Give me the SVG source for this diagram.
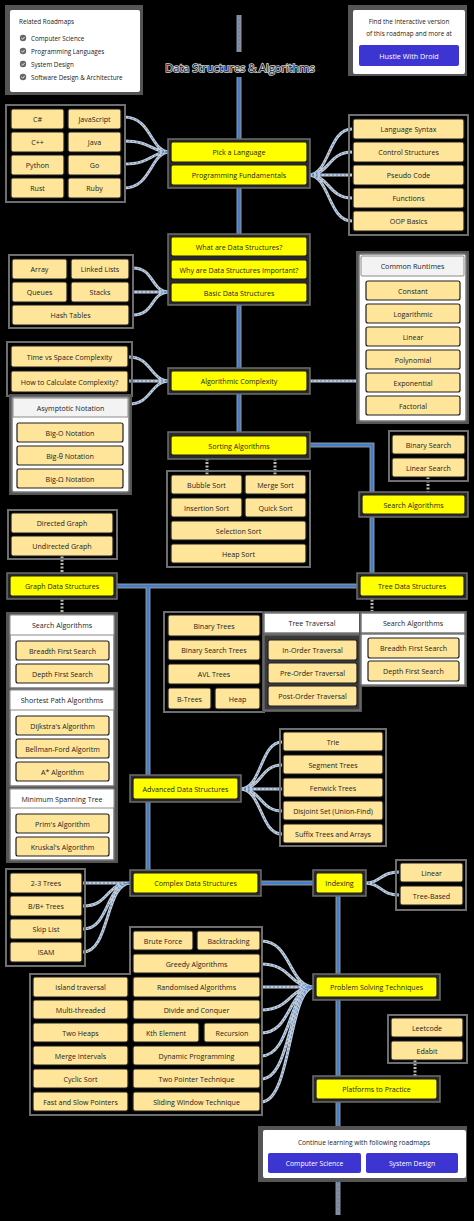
<svg xmlns="http://www.w3.org/2000/svg" width="474" height="1221" viewBox="0 0 474 1221">
<style>
.bg{fill:#000}
.n{fill:#FFE599;stroke:#1e1e1e;stroke-width:1.2}
.y{fill:#FFFF00;stroke:#1e1e1e;stroke-width:1.2}
.fr{fill:#2a2a2a;stroke:#6e6e6e;stroke-width:1.5}
.gf{fill:none;stroke:#6e6e6e;stroke-width:2}
.wc{fill:#fff;stroke:#7a7a7a;stroke-width:1.5}
.hd{fill:#f3f3f3;stroke:#8a8a8a;stroke-width:1}
.t{font-family:"Open Sans",sans-serif;font-size:7.1px;font-weight:500;fill:#222;text-anchor:middle;dominant-baseline:central}
.s{font-family:"Open Sans",sans-serif;font-size:6.3px;fill:#222;dominant-baseline:central}
.bt{fill:#3D35D2}
.wt{font-family:"Open Sans",sans-serif;font-size:7.2px;font-weight:500;fill:#fff;text-anchor:middle;dominant-baseline:central}
.spE{fill:none;stroke:#8c9096;stroke-width:5}
.spC{fill:none;stroke:#3f7fd1;stroke-width:2.5}
.buE{fill:none;stroke:#c3cad2;stroke-width:3}
.buC{fill:none;stroke:#4a89d8;stroke-width:1;stroke-dasharray:2 2}
.dt{fill:none;stroke:#b5bcae;stroke-width:3;stroke-dasharray:2 1.5}
</style>
<rect class="bg" x="0" y="0" width="474" height="1221"/>

<g id="connectors">
  <path class="spE" d="M239,15 V52 M239,77 V436 M307,445 H372 V576 M360,586 H114 M148,586 V873 M258,883 H316 M338,893 V1126 M338,1182 V1215"/>
  <path class="spC" d="M239,77 V436 M307,445 H372 V576 M360,586 H114 M148,586 V873 M258,883 H316 M338,893 V1126"/>
  <path class="buC" d="M239,15 V52 M338,1182 V1215" style="stroke-width:1.5"/>
  <path class="buE" d="M124,117 C152,117 150,152 170,152 M124,141 C152,141 150,152 170,152 M124,164 C152,164 150,152 170,152 M124,188 C152,188 150,152 170,152
  M308,175 C330,175 328,129 352,129 M308,175 C330,175 328,152 352,152 M308,175 H352 M308,175 C330,175 328,198 352,198 M308,175 C330,175 328,221 352,221
  M133,268 C155,268 150,292 170,292 M133,292 H170 M133,315 C155,315 150,292 170,292
  M129,357 C152,357 150,381 170,381 M129,381 H170 M129,404 C152,404 150,381 170,381
  M308,381 H358
  M240,789 C262,789 260,742 282,742 M240,789 C262,789 260,765 282,765 M240,789 H282 M240,789 C262,789 260,811 282,811 M240,789 C262,789 260,834 282,834
  M83,883 H131 M83,906 C110,906 105,883 131,883 M83,929 C110,929 105,883 131,883 M83,952 C110,952 105,883 131,883
  M364,883 C382,883 380,872 399,872 M364,883 C382,883 380,895 399,895
  M261,941 C292,941 288,987 315,987 M261,964 C292,964 288,987 315,987 M261,987 H315 M261,1010 C292,1010 288,987 315,987 M261,1033 C292,1033 288,987 315,987 M261,1056 C292,1056 288,987 315,987 M261,1079 C292,1079 288,987 315,987 M261,1102 C292,1102 288,987 315,987"/>
  <path class="buC" d="M124,117 C152,117 150,152 170,152 M124,141 C152,141 150,152 170,152 M124,164 C152,164 150,152 170,152 M124,188 C152,188 150,152 170,152
  M308,175 C330,175 328,129 352,129 M308,175 C330,175 328,152 352,152 M308,175 H352 M308,175 C330,175 328,198 352,198 M308,175 C330,175 328,221 352,221
  M133,268 C155,268 150,292 170,292 M133,292 H170 M133,315 C155,315 150,292 170,292
  M129,357 C152,357 150,381 170,381 M129,381 H170 M129,404 C152,404 150,381 170,381
  M308,381 H358
  M240,789 C262,789 260,742 282,742 M240,789 C262,789 260,765 282,765 M240,789 H282 M240,789 C262,789 260,811 282,811 M240,789 C262,789 260,834 282,834
  M83,883 H131 M83,906 C110,906 105,883 131,883 M83,929 C110,929 105,883 131,883 M83,952 C110,952 105,883 131,883
  M364,883 C382,883 380,872 399,872 M364,883 C382,883 380,895 399,895
  M261,941 C292,941 288,987 315,987 M261,964 C292,964 288,987 315,987 M261,987 H315 M261,1010 C292,1010 288,987 315,987 M261,1033 C292,1033 288,987 315,987 M261,1056 C292,1056 288,987 315,987 M261,1079 C292,1079 288,987 315,987 M261,1102 C292,1102 288,987 315,987"/>
  <path class="dt" d="M207,455 V475 M275,455 V475 M428,477 V495 M62,556 V576 M62,596 V615 M372,596 V613 M415,1060 V1079"/>
</g>

<g id="related-roadmaps">
  <rect x="5" y="5" width="138" height="90" fill="#555"/>
  <rect x="10" y="10" width="130" height="82" rx="2" fill="#fff"/>
  <text class="s" x="19" y="21">Related Roadmaps</text>
  <g fill="#666"><circle cx="23" cy="38" r="3.2"/><circle cx="23" cy="51" r="3.2"/><circle cx="23" cy="64" r="3.2"/><circle cx="23" cy="77" r="3.2"/></g>
  <path d="M21.4,38 l1.2,1.2 l2,-2.2 M21.4,51 l1.2,1.2 l2,-2.2 M21.4,64 l1.2,1.2 l2,-2.2 M21.4,77 l1.2,1.2 l2,-2.2" fill="none" stroke="#fff" stroke-width="0.9"/>
  <text class="s" x="31" y="38">Computer Science</text>
  <text class="s" x="31" y="51">Programming Languages</text>
  <text class="s" x="31" y="64">System Design</text>
  <text class="s" x="31" y="77">Software Design &amp; Architecture</text>
</g>
<g id="title">
  <text x="240" y="67" font-family="'Open Sans',sans-serif" font-size="11" text-anchor="middle" dominant-baseline="central" fill="#1a1a1a" stroke="#d5d5d5" stroke-width="1.6" paint-order="stroke">Data Structures &amp; Algorithms</text>
</g>
<g id="interactive">
  <rect x="348" y="5" width="119" height="71" fill="#555"/>
  <rect x="353" y="10" width="112" height="64" rx="2" fill="#fff"/>
  <text class="t" x="409" y="21" style="font-size:6.4px">Find the interactive version</text>
  <text class="t" x="409" y="33" style="font-size:6.4px">of this roadmap and more at</text>
  <rect class="bt" x="359" y="45" width="100" height="21" rx="2"/>
  <text class="wt" x="409" y="55.5">Hustle With Droid</text>
</g>

<rect class="gf" x="6" y="105" width="119" height="97"/>
<g id="c-sharp"><rect class="n" x="11" y="109" width="53" height="20" rx="2"/><text class="t" x="37.5" y="119">C#</text></g>
<g id="javascript"><rect class="n" x="68" y="109" width="53" height="20" rx="2"/><text class="t" x="94.5" y="119">JavaScript</text></g>
<g id="cpp"><rect class="n" x="11" y="132" width="53" height="20" rx="2"/><text class="t" x="37.5" y="142">C++</text></g>
<g id="java"><rect class="n" x="68" y="132" width="53" height="20" rx="2"/><text class="t" x="94.5" y="142">Java</text></g>
<g id="python"><rect class="n" x="11" y="155" width="53" height="20" rx="2"/><text class="t" x="37.5" y="165">Python</text></g>
<g id="go"><rect class="n" x="68" y="155" width="53" height="20" rx="2"/><text class="t" x="94.5" y="165">Go</text></g>
<g id="rust"><rect class="n" x="11" y="178" width="53" height="20" rx="2"/><text class="t" x="37.5" y="188">Rust</text></g>
<g id="ruby"><rect class="n" x="68" y="178" width="53" height="20" rx="2"/><text class="t" x="94.5" y="188">Ruby</text></g>

<rect class="fr" x="168" y="139" width="142" height="49"/>
<g id="pick-language"><rect class="y" x="171" y="142" width="136" height="20" rx="2"/><text class="t" x="239" y="152">Pick a Language</text></g>
<g id="programming-fundamentals"><rect class="y" x="171" y="165" width="136" height="20" rx="2"/><text class="t" x="239" y="175">Programming Fundamentals</text></g>

<rect class="gf" x="349" y="115" width="119" height="120"/>
<g id="language-syntax"><rect class="n" x="353" y="119" width="111" height="20" rx="2"/><text class="t" x="408.5" y="129">Language Syntax</text></g>
<g id="control-structures"><rect class="n" x="353" y="142" width="111" height="20" rx="2"/><text class="t" x="408.5" y="152">Control Structures</text></g>
<g id="pseudo-code"><rect class="n" x="353" y="165" width="111" height="20" rx="2"/><text class="t" x="408.5" y="175">Pseudo Code</text></g>
<g id="functions"><rect class="n" x="353" y="188" width="111" height="20" rx="2"/><text class="t" x="408.5" y="198">Functions</text></g>
<g id="oop-basics"><rect class="n" x="353" y="211" width="111" height="20" rx="2"/><text class="t" x="408.5" y="221">OOP Basics</text></g>

<rect class="fr" x="168" y="234" width="142" height="71"/>
<g id="what-are-ds"><rect class="y" x="171" y="237" width="136" height="19" rx="2"/><text class="t" x="239" y="246.5">What are Data Structures?</text></g>
<g id="why-ds-important"><rect class="y" x="171" y="260" width="136" height="19" rx="2"/><text class="t" x="239" y="269.5">Why are Data Structures Important?</text></g>
<g id="basic-ds"><rect class="y" x="171" y="283" width="136" height="19" rx="2"/><text class="t" x="239" y="292.5">Basic Data Structures</text></g>

<rect class="gf" x="9" y="255" width="124" height="73"/>
<g id="array"><rect class="n" x="12" y="259" width="55" height="20" rx="2"/><text class="t" x="39.5" y="269">Array</text></g>
<g id="linked-lists"><rect class="n" x="71" y="259" width="58" height="20" rx="2"/><text class="t" x="100" y="269">Linked Lists</text></g>
<g id="queues"><rect class="n" x="12" y="282" width="55" height="20" rx="2"/><text class="t" x="39.5" y="292">Queues</text></g>
<g id="stacks"><rect class="n" x="71" y="282" width="58" height="20" rx="2"/><text class="t" x="100" y="292">Stacks</text></g>
<g id="hash-tables"><rect class="n" x="12" y="305" width="117" height="20" rx="2"/><text class="t" x="70.5" y="315">Hash Tables</text></g>

<g id="common-runtimes">
  <rect x="356" y="251" width="113" height="173" fill="#555"/>
  <rect class="wc" x="359" y="254" width="107" height="167" rx="2"/>
  <rect class="hd" x="361" y="256" width="103" height="20" rx="1"/>
  <text class="t" x="412.5" y="266">Common Runtimes</text>
</g>
<g id="constant"><rect class="n" x="366" y="281" width="94" height="19" rx="2"/><text class="t" x="413" y="290.5">Constant</text></g>
<g id="logarithmic"><rect class="n" x="366" y="304" width="94" height="19" rx="2"/><text class="t" x="413" y="313.5">Logarithmic</text></g>
<g id="linear-runtime"><rect class="n" x="366" y="327" width="94" height="19" rx="2"/><text class="t" x="413" y="336.5">Linear</text></g>
<g id="polynomial"><rect class="n" x="366" y="350" width="94" height="19" rx="2"/><text class="t" x="413" y="359.5">Polynomial</text></g>
<g id="exponential"><rect class="n" x="366" y="373" width="94" height="19" rx="2"/><text class="t" x="413" y="382.5">Exponential</text></g>
<g id="factorial"><rect class="n" x="366" y="396" width="94" height="19" rx="2"/><text class="t" x="413" y="405.5">Factorial</text></g>

<rect class="gf" x="7" y="342" width="125" height="54"/>
<g id="time-vs-space"><rect class="n" x="11" y="346" width="117" height="21" rx="2"/><text class="t" x="69.5" y="356.5">Time vs Space Complexity</text></g>
<g id="calc-complexity"><rect class="n" x="11" y="371" width="117" height="21" rx="2"/><text class="t" x="69.5" y="381.5">How to Calculate Complexity?</text></g>

<g id="asymptotic-notation">
  <rect x="9" y="394" width="123" height="101" fill="#555"/>
  <rect class="wc" x="12" y="397" width="117" height="95" rx="2"/>
  <rect class="hd" x="13" y="398" width="115" height="19"/>
  <text class="t" x="70.5" y="407.5">Asymptotic Notation</text>
</g>
<g id="big-o"><rect class="n" x="17" y="423" width="106" height="19" rx="2"/><text class="t" x="70" y="432.5">Big-O Notation</text></g>
<g id="big-theta"><rect class="n" x="17" y="446" width="106" height="19" rx="2"/><text class="t" x="70" y="455.5">Big-θ Notation</text></g>
<g id="big-omega"><rect class="n" x="17" y="469" width="106" height="19" rx="2"/><text class="t" x="70" y="478.5">Big-Ω Notation</text></g>

<rect class="fr" x="168" y="368" width="142" height="26"/>
<g id="algorithmic-complexity"><rect class="y" x="171" y="371" width="136" height="20" rx="2"/><text class="t" x="239" y="381">Algorithmic Complexity</text></g>

<rect class="fr" x="168" y="432" width="142" height="27"/>
<g id="sorting-algorithms"><rect class="y" x="171" y="436" width="136" height="19" rx="2"/><text class="t" x="239" y="445.5">Sorting Algorithms</text></g>
<rect class="gf" x="167" y="471" width="143" height="96"/>
<g id="bubble-sort"><rect class="n" x="171" y="475" width="71" height="19" rx="2"/><text class="t" x="206.5" y="484.5">Bubble Sort</text></g>
<g id="merge-sort"><rect class="n" x="245" y="475" width="61" height="19" rx="2"/><text class="t" x="275.5" y="484.5">Merge Sort</text></g>
<g id="insertion-sort"><rect class="n" x="171" y="498" width="71" height="19" rx="2"/><text class="t" x="206.5" y="507.5">Insertion Sort</text></g>
<g id="quick-sort"><rect class="n" x="245" y="498" width="61" height="19" rx="2"/><text class="t" x="275.5" y="507.5">Quick Sort</text></g>
<g id="selection-sort"><rect class="n" x="171" y="521" width="135" height="19" rx="2"/><text class="t" x="238.5" y="530.5">Selection Sort</text></g>
<g id="heap-sort"><rect class="n" x="171" y="544" width="135" height="19" rx="2"/><text class="t" x="238.5" y="553.5">Heap Sort</text></g>

<rect class="gf" x="389" y="431" width="79" height="50"/>
<g id="binary-search"><rect class="n" x="392" y="435" width="73" height="19" rx="2"/><text class="t" x="428.5" y="444.5">Binary Search</text></g>
<g id="linear-search"><rect class="n" x="392" y="458" width="73" height="19" rx="2"/><text class="t" x="428.5" y="467.5">Linear Search</text></g>
<rect class="fr" x="359" y="492" width="109" height="25"/>
<g id="search-algorithms"><rect class="y" x="362" y="495" width="103" height="19" rx="2"/><text class="t" x="413.5" y="504.5">Search Algorithms</text></g>

<rect class="gf" x="8" y="510" width="109" height="49"/>
<g id="directed-graph"><rect class="n" x="11" y="513" width="102" height="20" rx="2"/><text class="t" x="62" y="523">Directed Graph</text></g>
<g id="undirected-graph"><rect class="n" x="11" y="536" width="102" height="20" rx="2"/><text class="t" x="62" y="546">Undirected Graph</text></g>
<rect class="fr" x="7" y="573" width="110" height="26"/>
<g id="graph-ds"><rect class="y" x="10" y="576" width="104" height="20" rx="2"/><text class="t" x="62" y="586">Graph Data Structures</text></g>
<rect class="fr" x="357" y="573" width="110" height="26"/>
<g id="tree-ds"><rect class="y" x="360" y="576" width="104" height="20" rx="2"/><text class="t" x="412" y="586">Tree Data Structures</text></g>

<rect x="6" y="612" width="112" height="251" fill="#555"/>
<g id="graph-search-algorithms">
  <rect class="wc" x="10" y="615" width="104" height="73" rx="1"/>
  <rect class="hd" x="10" y="615" width="104" height="20" rx="1" style="fill:#fff"/>
  <text class="t" x="62" y="625">Search Algorithms</text>
</g>
<g id="graph-bfs"><rect class="n" x="16" y="641" width="93" height="19" rx="2"/><text class="t" x="62.5" y="650.5">Breadth First Search</text></g>
<g id="graph-dfs"><rect class="n" x="16" y="664" width="93" height="19" rx="2"/><text class="t" x="62.5" y="673.5">Depth First Search</text></g>
<g id="shortest-path">
  <rect class="wc" x="10" y="690" width="104" height="96" rx="1"/>
  <rect class="hd" x="10" y="690" width="104" height="20" rx="1" style="fill:#fff"/>
  <text class="t" x="62" y="700">Shortest Path Algorithms</text>
</g>
<g id="dijkstra"><rect class="n" x="16" y="716" width="93" height="19" rx="2"/><text class="t" x="62.5" y="725.5">Dijkstra's Algorithm</text></g>
<g id="bellman-ford"><rect class="n" x="16" y="739" width="93" height="19" rx="2"/><text class="t" x="62.5" y="748.5">Bellman-Ford Algoritm</text></g>
<g id="a-star"><rect class="n" x="16" y="762" width="93" height="19" rx="2"/><text class="t" x="62.5" y="771.5">A* Algorithm</text></g>
<g id="mst">
  <rect class="wc" x="10" y="789" width="104" height="71" rx="1"/>
  <rect class="hd" x="10" y="789" width="104" height="19" rx="1" style="fill:#fff"/>
  <text class="t" x="62" y="798.5">Minimum Spanning Tree</text>
</g>
<g id="prims"><rect class="n" x="16" y="814" width="93" height="19" rx="2"/><text class="t" x="62.5" y="823.5">Prim's Algorithm</text></g>
<g id="kruskals"><rect class="n" x="16" y="837" width="93" height="19" rx="2"/><text class="t" x="62.5" y="846.5">Kruskal's Algorithm</text></g>

<rect class="gf" x="164" y="612" width="100" height="100"/>
<g id="binary-trees"><rect class="n" x="168" y="615" width="92" height="21" rx="2"/><text class="t" x="214" y="625.5">Binary Trees</text></g>
<g id="bst"><rect class="n" x="168" y="640" width="92" height="20" rx="2"/><text class="t" x="214" y="650">Binary Search Trees</text></g>
<g id="avl-trees"><rect class="n" x="168" y="664" width="92" height="20" rx="2"/><text class="t" x="214" y="674">AVL Trees</text></g>
<g id="b-trees"><rect class="n" x="168" y="688" width="43" height="21" rx="2"/><text class="t" x="189.5" y="698.5">B-Trees</text></g>
<g id="heap"><rect class="n" x="215" y="688" width="45" height="21" rx="2"/><text class="t" x="237.5" y="698.5">Heap</text></g>

<g id="tree-traversal">
  <rect x="262" y="611" width="100" height="101" fill="#555"/>
  <rect class="wc" x="264" y="613" width="96" height="20" rx="1"/>
  <text class="t" x="312" y="623">Tree Traversal</text>
  <rect x="264" y="635" width="96" height="75" fill="#3a3a3a" stroke="#777" stroke-width="1"/>
</g>
<g id="in-order"><rect class="n" x="268" y="640" width="89" height="20" rx="2"/><text class="t" x="312.5" y="650">In-Order Traversal</text></g>
<g id="pre-order"><rect class="n" x="268" y="663" width="89" height="20" rx="2"/><text class="t" x="312.5" y="673">Pre-Order Traversal</text></g>
<g id="post-order"><rect class="n" x="268" y="686" width="89" height="20" rx="2"/><text class="t" x="312.5" y="696">Post-Order Traversal</text></g>

<g id="tree-search-algorithms">
  <rect x="359" y="611" width="108" height="76" fill="#555"/>
  <rect class="wc" x="361" y="613" width="104" height="20" rx="1"/>
  <text class="t" x="413" y="623">Search Algorithms</text>
  <rect class="wc" x="361" y="634" width="104" height="51" rx="1"/>
</g>
<g id="tree-bfs"><rect class="n" x="368" y="638" width="91" height="20" rx="2"/><text class="t" x="413.5" y="648">Breadth First Search</text></g>
<g id="tree-dfs"><rect class="n" x="368" y="661" width="91" height="20" rx="2"/><text class="t" x="413.5" y="671">Depth First Search</text></g>

<rect class="fr" x="130" y="775" width="111" height="27"/>
<g id="advanced-ds"><rect class="y" x="133" y="778" width="105" height="21" rx="2"/><text class="t" x="185.5" y="788.5">Advanced Data Structures</text></g>
<rect class="gf" x="280" y="729" width="106" height="117"/>
<g id="trie"><rect class="n" x="283" y="732" width="100" height="19" rx="2"/><text class="t" x="333" y="741.5">Trie</text></g>
<g id="segment-trees"><rect class="n" x="283" y="755" width="100" height="19" rx="2"/><text class="t" x="333" y="764.5">Segment Trees</text></g>
<g id="fenwick-trees"><rect class="n" x="283" y="778" width="100" height="19" rx="2"/><text class="t" x="333" y="787.5">Fenwick Trees</text></g>
<g id="disjoint-set"><rect class="n" x="283" y="801" width="100" height="19" rx="2"/><text class="t" x="333" y="810.5">Disjoint Set (Union-Find)</text></g>
<g id="suffix-trees"><rect class="n" x="283" y="824" width="100" height="19" rx="2"/><text class="t" x="333" y="833.5">Suffix Trees and Arrays</text></g>

<rect class="fr" x="130" y="870" width="131" height="26"/>
<g id="complex-ds"><rect class="y" x="133" y="873" width="125" height="20" rx="2"/><text class="t" x="195.5" y="883">Complex Data Structures</text></g>
<rect class="gf" x="6" y="869" width="79" height="97"/>
<g id="two-three-trees"><rect class="n" x="10" y="873" width="72" height="20" rx="2"/><text class="t" x="46" y="883">2-3 Trees</text></g>
<g id="b-plus-trees"><rect class="n" x="10" y="896" width="72" height="20" rx="2"/><text class="t" x="46" y="906">B/B+ Trees</text></g>
<g id="skip-list"><rect class="n" x="10" y="919" width="72" height="20" rx="2"/><text class="t" x="46" y="929">Skip List</text></g>
<g id="isam"><rect class="n" x="10" y="942" width="72" height="20" rx="2"/><text class="t" x="46" y="952">ISAM</text></g>

<rect class="fr" x="313" y="870" width="53" height="26"/>
<g id="indexing"><rect class="y" x="316" y="873" width="47" height="20" rx="2"/><text class="t" x="339.5" y="883">Indexing</text></g>
<rect class="gf" x="396" y="860" width="70" height="50"/>
<g id="linear-index"><rect class="n" x="400" y="863" width="63" height="19" rx="2"/><text class="t" x="431.5" y="872.5">Linear</text></g>
<g id="tree-based"><rect class="n" x="400" y="886" width="63" height="19" rx="2"/><text class="t" x="431.5" y="895.5">Tree-Based</text></g>

<path d="M130,927 H262 V1115 H30 V974 H130 Z" fill="none" stroke="#6e6e6e" stroke-width="2"/>
<g id="brute-force"><rect class="n" x="133" y="931" width="60" height="19" rx="2"/><text class="t" x="163" y="940.5">Brute Force</text></g>
<g id="backtracking"><rect class="n" x="197" y="931" width="63" height="19" rx="2"/><text class="t" x="228.5" y="940.5">Backtracking</text></g>
<g id="greedy"><rect class="n" x="133" y="954" width="127" height="19" rx="2"/><text class="t" x="196.5" y="963.5">Greedy Algorithms</text></g>
<g id="randomised"><rect class="n" x="133" y="977" width="127" height="20" rx="2"/><text class="t" x="196.5" y="987">Randomised Algorithms</text></g>
<g id="divide-conquer"><rect class="n" x="133" y="1000" width="127" height="19" rx="2"/><text class="t" x="196.5" y="1009.5">Divide and Conquer</text></g>
<g id="kth-element"><rect class="n" x="133" y="1023" width="66" height="19" rx="2"/><text class="t" x="166" y="1032.5">Kth Element</text></g>
<g id="recursion"><rect class="n" x="204" y="1023" width="56" height="19" rx="2"/><text class="t" x="232" y="1032.5">Recursion</text></g>
<g id="dynamic-programming"><rect class="n" x="133" y="1046" width="127" height="19" rx="2"/><text class="t" x="196.5" y="1055.5">Dynamic Programming</text></g>
<g id="two-pointer"><rect class="n" x="133" y="1069" width="127" height="19" rx="2"/><text class="t" x="196.5" y="1078.5">Two Pointer Technique</text></g>
<g id="sliding-window"><rect class="n" x="133" y="1092" width="127" height="19" rx="2"/><text class="t" x="196.5" y="1101.5">Sliding Window Technique</text></g>
<g id="island-traversal"><rect class="n" x="33" y="977" width="95" height="20" rx="2"/><text class="t" x="80.5" y="987">Island traversal</text></g>
<g id="multi-threaded"><rect class="n" x="33" y="1000" width="95" height="19" rx="2"/><text class="t" x="80.5" y="1009.5">Multi-threaded</text></g>
<g id="two-heaps"><rect class="n" x="33" y="1023" width="95" height="19" rx="2"/><text class="t" x="80.5" y="1032.5">Two Heaps</text></g>
<g id="merge-intervals"><rect class="n" x="33" y="1046" width="95" height="19" rx="2"/><text class="t" x="80.5" y="1055.5">Merge Intervals</text></g>
<g id="cyclic-sort"><rect class="n" x="33" y="1069" width="95" height="19" rx="2"/><text class="t" x="80.5" y="1078.5">Cyclic Sort</text></g>
<g id="fast-slow-pointers"><rect class="n" x="33" y="1092" width="95" height="19" rx="2"/><text class="t" x="80.5" y="1101.5">Fast and Slow Pointers</text></g>

<rect class="fr" x="313" y="974" width="127" height="26"/>
<g id="problem-solving"><rect class="y" x="316" y="977" width="121" height="20" rx="2"/><text class="t" x="376.5" y="987">Problem Solving Techniques</text></g>

<rect class="gf" x="388" y="1015" width="79" height="48"/>
<g id="leetcode"><rect class="n" x="391" y="1018" width="72" height="19" rx="2"/><text class="t" x="427" y="1027.5">Leetcode</text></g>
<g id="edabit"><rect class="n" x="391" y="1041" width="72" height="19" rx="2"/><text class="t" x="427" y="1050.5">Edabit</text></g>
<rect class="fr" x="313" y="1076" width="127" height="26"/>
<g id="platforms"><rect class="y" x="316" y="1079" width="121" height="20" rx="2"/><text class="t" x="376.5" y="1089">Platforms to Practice</text></g>

<g id="continue-learning">
  <rect x="258" y="1126" width="209" height="56" fill="#555"/>
  <rect x="263" y="1130" width="203" height="48" rx="2" fill="#fff"/>
  <text class="t" x="364" y="1142" style="font-size:6.6px">Continue learning with following roadmaps</text>
  <rect class="bt" x="268" y="1153" width="93" height="20" rx="2"/>
  <text class="wt" x="314.5" y="1163" style="font-size:6.8px">Computer Science</text>
  <rect class="bt" x="366" y="1153" width="92" height="20" rx="2"/>
  <text class="wt" x="412" y="1163" style="font-size:6.8px">System Design</text>
</g>
</svg>
